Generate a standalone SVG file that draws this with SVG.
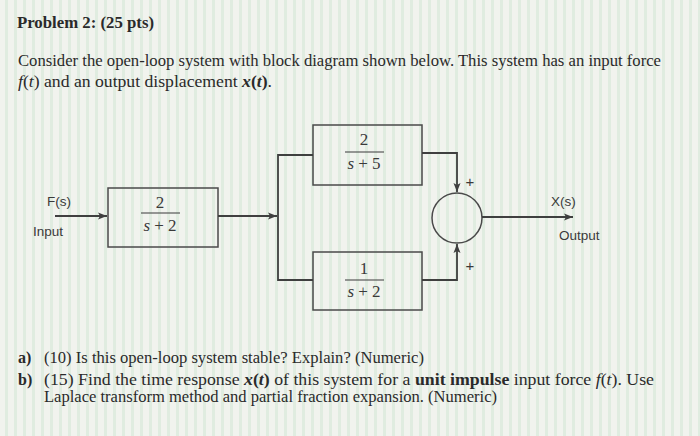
<svg xmlns="http://www.w3.org/2000/svg" width="700" height="436" viewBox="0 0 700 436">
<defs>
<pattern id="stripes" width="9" height="436" patternUnits="userSpaceOnUse">
<rect width="9" height="436" fill="#f1f3ee"/>
<rect x="5" width="3" height="436" fill="#e0ece0"/>
</pattern>
<marker id="arr" markerWidth="10" markerHeight="8" refX="9" refY="4" orient="auto" markerUnits="userSpaceOnUse">
<path d="M0,0.5 L9,4 L0,7.5 L2,4 Z" fill="#3f3f3f"/>
</marker>
<style>
.t{font-family:"Liberation Serif","Times New Roman",serif;font-size:16px;fill:#2a2a2a}
.b{font-weight:bold}
.i{font-style:italic}
.s{font-family:"Liberation Sans",Arial,sans-serif;font-size:13.5px;fill:#3a3a3a}
.p{font-family:"Liberation Sans",Arial,sans-serif;font-size:15px;fill:#3a3a3a;text-anchor:middle}
.m{font-family:"Liberation Serif","Times New Roman",serif;font-size:17px;fill:#3a3a3a;text-anchor:middle}
.blk{fill:none;stroke:#4a4a4a;stroke-width:1.5}
.ln{fill:none;stroke:#3f3f3f;stroke-width:1.8}
.fr{stroke:#3a3a3a;stroke-width:1.2}
</style>
</defs>
<rect width="700" height="436" fill="url(#stripes)"/>

<g id="header">
<text class="t b" x="17" y="28" textLength="137" lengthAdjust="spacingAndGlyphs">Problem 2: (25 pts)</text>
<text class="t" x="18" y="66" textLength="643" lengthAdjust="spacingAndGlyphs">Consider the open-loop system with block diagram shown below. This system has an input force</text>
<text class="t" x="18" y="87" textLength="254" lengthAdjust="spacingAndGlyphs"><tspan class="i">f</tspan>(<tspan class="i">t</tspan>) and an output displacement <tspan class="b i">x</tspan><tspan class="b">(</tspan><tspan class="b i">t</tspan><tspan class="b">)</tspan>.</text>
</g>

<g id="input-label">
<text class="s" x="47" y="206">F(s)</text>
<text class="s" x="33" y="236">Input</text>
</g>

<g id="block1">
<rect class="blk" x="108" y="188" width="110" height="59"/>
<text class="m" x="160" y="208">2</text>
<line class="fr" x1="141" y1="213" x2="180" y2="213"/>
<text class="m" x="160" y="231"><tspan class="i">s</tspan> + 2</text>
</g>

<g id="block2">
<rect class="blk" x="313" y="125" width="109" height="60"/>
<text class="m" x="364" y="145">2</text>
<line class="fr" x1="345" y1="152" x2="384" y2="152"/>
<text class="m" x="364" y="169"><tspan class="i">s</tspan> + 5</text>
</g>

<g id="block3">
<rect class="blk" x="313" y="252" width="109" height="58"/>
<text class="m" x="364" y="274">1</text>
<line class="fr" x1="345" y1="280" x2="384" y2="280"/>
<text class="m" x="364" y="297"><tspan class="i">s</tspan> + 2</text>
</g>

<g id="sum">
<circle class="blk" cx="457" cy="218" r="25"/>
<text class="p" x="470" y="187">+</text>
<text class="p" x="470" y="271">+</text>
</g>

<g id="output-label">
<text class="s" x="551" y="206">X(s)</text>
<text class="s" x="559" y="240">Output</text>
</g>

<g id="connectors">
<line class="ln" x1="55" y1="216" x2="107" y2="216" marker-end="url(#arr)"/>
<line class="ln" x1="218" y1="216" x2="277" y2="216" marker-end="url(#arr)"/>
<polyline class="ln" points="313,155 278,155 278,280 313,280"/>
<polyline class="ln" points="422,153 457,153 457,192" marker-end="url(#arr)"/>
<polyline class="ln" points="422,280 457,280 457,244" marker-end="url(#arr)"/>
<line class="ln" x1="482" y1="217" x2="573" y2="217" marker-end="url(#arr)"/>
</g>

<g id="questions">
<text class="t b" x="18" y="363">a)</text>
<text class="t" x="44" y="363" textLength="380" lengthAdjust="spacingAndGlyphs">(10) Is this open-loop system stable? Explain? (Numeric)</text>
<text class="t b" x="18" y="385">b)</text>
<text class="t" x="44" y="385" textLength="610" lengthAdjust="spacingAndGlyphs">(15) Find the time response <tspan class="b i">x</tspan><tspan class="b">(</tspan><tspan class="b i">t</tspan><tspan class="b">)</tspan> of this system for a <tspan class="b">unit impulse</tspan> input force <tspan class="i">f</tspan>(<tspan class="i">t</tspan>). Use</text>
<text class="t" x="44" y="402" textLength="453" lengthAdjust="spacingAndGlyphs">Laplace transform method and partial fraction expansion. (Numeric)</text>
</g>
</svg>
